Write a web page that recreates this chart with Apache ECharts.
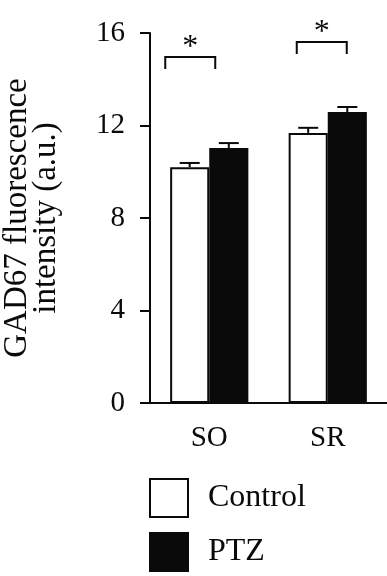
<!DOCTYPE html>
<html>
<head>
<meta charset="utf-8">
<script src="https://cdn.jsdelivr.net/npm/echarts@6/dist/echarts.min.js"></script>
<style>
html,body{margin:0;padding:0;background:#fff;}
#chart{width:387px;height:576px;}
</style>
</head>
<body>
<div id="chart"></div>
<script>
// ---- data ----
var categories = ['SO', 'SR'];
var controlValues = [10.2, 11.68];
var controlErrors = [0.18, 0.22];
var ptzValues = [11.03, 12.58];
var ptzErrors = [0.21, 0.22];
var yTicks = [0, 4, 8, 12, 16];
// significance brackets: [categoryIndex, bracketTop, legBottom, label]
var brackets = [
  [0, 14.96, 14.44, '*'],
  [1, 15.61, 15.09, '*']
];

// ---- styles ----
var FONT = 'Liberation Serif';
var INK = '#0a0a0a';
var bracketOffsets = [[-44, 6], [-31, 19]]; // px relative to category centre
var BAR_FRAC = 0.33;

var chart = echarts.init(document.getElementById('chart'), null, {renderer: 'canvas'});

function errorRenderer(sign) {
  return function (params, api) {
    var idx = api.value(0);
    var val = api.value(1);
    var err = api.value(2);
    var base = api.coord([idx, val]);
    var top = api.coord([idx, val + err]);
    var band = api.size([1, 0])[0];
    var bw = band * BAR_FRAC;
    var x = base[0] + sign * bw / 2;
    var cap = 10;
    return {
      type: 'group',
      children: [
        {type: 'line', shape: {x1: x, y1: base[1], x2: x, y2: top[1]}, style: {stroke: INK, lineWidth: 2}},
        {type: 'line', shape: {x1: x - cap, y1: top[1], x2: x + cap, y2: top[1]}, style: {stroke: INK, lineWidth: 2}}
      ]
    };
  };
}

function bracketRenderer(params, api) {
  var idx = api.value(0);
  var topV = api.value(1);
  var legV = api.value(2);
  var c = api.coord([idx, topV]);
  var leg = api.coord([idx, legV]);
  var off = bracketOffsets[params.dataIndex];
  var x1 = c[0] + off[0], x2 = c[0] + off[1];
  return {
    type: 'group',
    children: [
      {type: 'polyline', shape: {points: [[x1, leg[1]], [x1, c[1]], [x2, c[1]], [x2, leg[1]]]},
       style: {stroke: INK, lineWidth: 2, fill: null}},
      {type: 'text', style: {text: brackets[params.dataIndex][3], x: (x1 + x2) / 2, y: c[1] + 7,
        align: 'center', verticalAlign: 'bottom', font: '32px "' + FONT + '"', fill: INK}}
    ]
  };
}

var option = {
  animation: false,
  backgroundColor: '#fff',
  textStyle: {fontFamily: FONT, color: INK},
  grid: {left: 150, right: 0, top: 33, bottom: 173, containLabel: false, outerBoundsMode: 'none'},
  legend: {
    data: ['Control', 'PTZ'],
    orient: 'vertical',
    left: 149,
    top: 478,
    padding: 0,
    itemWidth: 38,
    itemHeight: 38,
    itemGap: 14,
    icon: 'rect',
    textStyle: {fontFamily: FONT, fontSize: 32, color: INK, padding: [0, 0, 0, 15]}
  },
  xAxis: {
    type: 'category',
    data: categories,
    axisLine: {lineStyle: {color: INK, width: 2}},
    axisTick: {show: false},
    axisLabel: {fontFamily: FONT, fontSize: 29, color: INK, margin: 21}
  },
  yAxis: {
    type: 'value',
    min: yTicks[0],
    max: yTicks[yTicks.length - 1],
    interval: yTicks[1] - yTicks[0],
    name: 'GAD67 fluorescence\nintensity (a.u.)',
    nameLocation: 'middle',
    nameRotate: 90,
    nameGap: 89,
    nameTextStyle: {fontFamily: FONT, fontSize: 33, color: INK, lineHeight: 29},
    splitLine: {show: false},
    axisLine: {show: true, lineStyle: {color: INK, width: 2}},
    axisTick: {show: true, length: 10, lineStyle: {color: INK, width: 2}},
    axisLabel: {fontFamily: FONT, fontSize: 29, color: INK, margin: 25}
  },
  series: [
    {
      name: 'Control', type: 'bar', data: controlValues,
      barWidth: (BAR_FRAC * 100) + '%', barGap: '0%',
      itemStyle: {color: '#fff', borderColor: INK, borderWidth: 2},
      z: 2
    },
    {
      name: 'PTZ', type: 'bar', data: ptzValues,
      barWidth: (BAR_FRAC * 100) + '%', barGap: '0%',
      itemStyle: {color: INK, borderColor: INK, borderWidth: 2},
      z: 2
    },
    {
      type: 'custom', renderItem: errorRenderer(-1), z: 3, silent: true,
      data: controlValues.map(function (v, i) { return [i, v, controlErrors[i]]; })
    },
    {
      type: 'custom', renderItem: errorRenderer(1), z: 3, silent: true,
      data: ptzValues.map(function (v, i) { return [i, v, ptzErrors[i]]; })
    },
    {
      type: 'custom', renderItem: bracketRenderer, z: 3, silent: true,
      data: brackets.map(function (b) { return [b[0], b[1], b[2]]; })
    }
  ]
};
chart.setOption(option);
</script>
</body>
</html>
